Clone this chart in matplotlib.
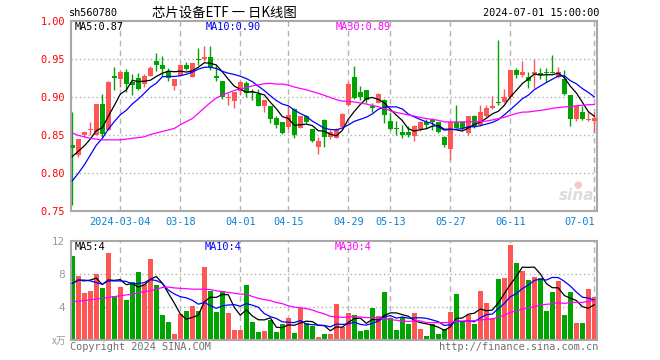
import numpy as np
import pandas as pd
import matplotlib
matplotlib.use("Agg")
import matplotlib.pyplot as plt

# ---------------- data ----------------
opens = [0.837, 0.824, 0.850, 0.857, 0.851, 0.891, 0.857, 0.928, 0.924, 0.933,
         0.920, 0.926, 0.917, 0.928, 0.948, 0.943, 0.935, 0.915, 0.928, 0.943,
         0.927, 0.951, 0.950, 0.953, 0.928, 0.921, 0.899, 0.895, 0.908, 0.919,
         0.907, 0.905, 0.888, 0.889, 0.873, 0.867, 0.861, 0.885, 0.860, 0.875,
         0.858, 0.835, 0.870, 0.848, 0.847, 0.861, 0.890, 0.927, 0.907, 0.910,
         0.889, 0.893, 0.896, 0.869, 0.859, 0.854, 0.855, 0.849, 0.858, 0.867,
         0.871, 0.867, 0.848, 0.832, 0.867, 0.867, 0.853, 0.875, 0.864, 0.875,
         0.886, 0.894, 0.894, 0.900, 0.936, 0.929, 0.927, 0.930, 0.932, 0.933,
         0.933, 0.927, 0.924, 0.903, 0.871, 0.880, 0.870, 0.869]
highs = [0.881, 0.845, 0.856, 0.868, 0.891, 0.904, 0.921, 0.940, 0.934, 0.937,
         0.930, 0.932, 0.930, 0.941, 0.958, 0.955, 0.938, 0.924, 0.943, 0.946,
         0.945, 0.965, 0.967, 0.967, 0.943, 0.922, 0.905, 0.907, 0.921, 0.922,
         0.911, 0.911, 0.896, 0.889, 0.876, 0.867, 0.889, 0.886, 0.875, 0.877,
         0.858, 0.848, 0.871, 0.857, 0.859, 0.879, 0.920, 0.941, 0.915, 0.910,
         0.892, 0.906, 0.898, 0.879, 0.869, 0.864, 0.862, 0.863, 0.869, 0.872,
         0.873, 0.868, 0.849, 0.867, 0.890, 0.869, 0.876, 0.877, 0.890, 0.890,
         0.902, 0.975, 0.911, 0.936, 0.939, 0.948, 0.933, 0.951, 0.939, 0.939,
         0.956, 0.940, 0.936, 0.903, 0.888, 0.888, 0.881, 0.881]
lows = [0.758, 0.822, 0.848, 0.851, 0.850, 0.848, 0.857, 0.910, 0.913, 0.907,
        0.903, 0.910, 0.914, 0.928, 0.935, 0.928, 0.922, 0.910, 0.928, 0.936,
        0.927, 0.943, 0.948, 0.936, 0.921, 0.898, 0.890, 0.886, 0.903, 0.901,
        0.896, 0.888, 0.881, 0.866, 0.860, 0.852, 0.858, 0.847, 0.859, 0.866,
        0.841, 0.826, 0.835, 0.845, 0.846, 0.860, 0.889, 0.898, 0.897, 0.893,
        0.881, 0.892, 0.866, 0.857, 0.850, 0.847, 0.848, 0.843, 0.856, 0.859,
        0.857, 0.853, 0.835, 0.818, 0.859, 0.857, 0.851, 0.859, 0.862, 0.874,
        0.885, 0.890, 0.893, 0.898, 0.925, 0.927, 0.912, 0.912, 0.924, 0.920,
        0.932, 0.926, 0.903, 0.862, 0.869, 0.870, 0.869, 0.854]
closes = [0.833, 0.845, 0.854, 0.858, 0.891, 0.852, 0.920, 0.925, 0.933, 0.918,
          0.916, 0.911, 0.928, 0.939, 0.943, 0.937, 0.925, 0.924, 0.943, 0.937,
          0.945, 0.949, 0.953, 0.940, 0.926, 0.900, 0.900, 0.907, 0.920, 0.906,
          0.905, 0.889, 0.896, 0.872, 0.863, 0.853, 0.877, 0.851, 0.875, 0.868,
          0.843, 0.843, 0.848, 0.855, 0.858, 0.878, 0.917, 0.899, 0.901, 0.896,
          0.886, 0.904, 0.877, 0.858, 0.858, 0.850, 0.850, 0.862, 0.867, 0.864,
          0.867, 0.855, 0.837, 0.867, 0.860, 0.859, 0.875, 0.861, 0.881, 0.886,
          0.888, 0.892, 0.900, 0.936, 0.929, 0.933, 0.922, 0.933, 0.929, 0.932,
          0.932, 0.933, 0.904, 0.872, 0.888, 0.871, 0.871, 0.873]
volumes = [10.2, 7.8, 5.7, 6.0, 8.0, 6.3, 10.6, 5.4, 6.5, 4.9,
           7.1, 8.3, 6.8, 9.8, 6.7, 3.06, 2.2, 0.8, 3.2, 3.5,
           4.2, 3.5, 8.9, 6.0, 3.4, 6.0, 3.3, 1.25, 1.25, 6.7,
           2.26, 1.0, 1.15, 2.5, 1.0, 2.0, 2.7, 0.9, 3.9, 2.08,
           1.75, 0.4, 0.78, 0.78, 4.4, 1.57, 3.3, 3.06, 1.13, 1.25,
           3.9, 2.95, 5.85, 2.66, 1.25, 2.82, 2.0, 3.3, 1.37, 0.52,
           2.0, 0.76, 1.4, 3.43, 5.65, 2.26, 3.07, 2.0, 6.0, 4.55,
           2.7, 7.43, 7.55, 11.55, 9.4, 8.4, 7.3, 7.7, 7.5, 3.5,
           5.9, 7.2, 3.07, 5.85, 2.14, 2.14, 6.2, 5.2]

# moving-average values before the window starts
ma5_head = [0.822, 0.829, 0.836, 0.845]
ma10_head = [0.790, 0.800, 0.811, 0.824, 0.837, 0.846, 0.858, 0.868, 0.877]
ma30_head = [0.853, 0.850, 0.848, 0.846, 0.845, 0.844, 0.844, 0.844, 0.844, 0.845,
             0.846, 0.847, 0.848, 0.851, 0.853, 0.855, 0.857, 0.859, 0.864, 0.868,
             0.872, 0.879, 0.886, 0.893, 0.899, 0.903, 0.906, 0.909, 0.911]
vma5_head = [6.9, 7.3, 7.2, 7.3]
vma10_head = [6.9, 7.3, 7.3, 7.2, 7.0, 6.8, 7.2, 7.2, 7.2]
vma30_head = [4.7, 4.75, 4.8, 4.9, 5.0, 5.1, 5.2, 5.3, 5.4, 5.5,
              5.6, 5.75, 5.9, 6.0, 6.2, 6.4, 6.45, 6.35, 6.3, 6.25,
              6.2, 6.2, 6.2, 6.15, 6.0, 5.9, 5.8, 5.7, 5.6]

date_labels = ["2024-03-04", "03-18", "04-01", "04-15", "04-29", "05-13", "05-27", "06-11", "07-01"]
date_keys = ["2024-03-04", "2024-03-18", "2024-04-01", "2024-04-15", "2024-04-29",
             "2024-05-13", "2024-05-27", "2024-06-11", "2024-07-01"]
holidays = ["2024-04-04", "2024-04-05", "2024-05-01", "2024-05-02", "2024-05-03", "2024-06-10"]
price_ticks = [0.75, 0.80, 0.85, 0.90, 0.95, 1.00]
vol_ticks = [4, 8, 12]

title_code = "sh560780"
title_name = "芯片设备ETF 一 日K线图"
title_time = "2024-07-01 15:00:00"
ma_labels = ["MA5:0.87", "MA10:0.90", "MA30:0.89"]
vma_labels = ["MA5:4", "MA10:4", "MA30:4"]

# ---------------- helpers ----------------
def moving_avg(values, n, head):
    s = pd.Series(values, dtype=float).rolling(n).mean().to_numpy()
    s[:n - 1] = head
    return s

dates = pd.bdate_range("2024-02-21", "2024-07-01")
dates = dates[~dates.isin(pd.to_datetime(holidays))]
date_str = [d.strftime("%Y-%m-%d") for d in dates]
tick_idx = [date_str.index(k) for k in date_keys]

o = np.array(opens); h = np.array(highs); l = np.array(lows); c = np.array(closes)
v = np.array(volumes)
x = np.arange(len(c))

RED = "#ff5555"
GREEN = "#00a400"
GRAY_BORDER = "#a8a8a8"
MONO = "DejaVu Sans Mono"

W, H = 660, 360
fig = plt.figure(figsize=(6.6, 3.6), dpi=100)
fig.patch.set_facecolor("white")

def fx(px):
    return px / W

def fy(py):
    return 1 - py / H

left, right = 70.5, 597.0
ax = fig.add_axes([fx(left), fy(211.3), fx(right) - fx(left), fy(21.3) - fy(211.3)])
axv = fig.add_axes([fx(left), fy(340.3), fx(right) - fx(left), fy(241.3) - fy(340.3)])

x0 = -0.3
x1 = x0 + (right - left) / 6.0
for a in (ax, axv):
    a.set_xlim(x0, x1)
    for s in a.spines.values():
        s.set_color(GRAY_BORDER)
        s.set_linewidth(1.5)
    a.set_xticks([])
    for ti in tick_idx:
        a.axvline(ti, color="#b4b4b4", lw=1.0, ls=(0, (4, 3)), zorder=0)

# price
ax.set_ylim(0.75, 1.00)
for gy in price_ticks[1:-1]:
    ax.axhline(gy, color="#b0b0b0", lw=1.0, ls=(0, (1, 2)), zorder=0)
ax.set_yticks(price_ticks)
ax.set_yticklabels([f"{t:.2f}" for t in price_ticks], fontfamily=MONO, fontsize=7.4, color="red")
ax.tick_params(axis="y", length=0, pad=4)

bw = 0.78
for i in x:
    up = c[i] >= o[i]
    col = RED if up else GREEN
    ax.vlines(i, l[i], h[i], color=col, lw=1.0, zorder=2)
    lo, hi = min(o[i], c[i]), max(o[i], c[i])
    hgt = max(hi - lo, 0.0013)
    ax.bar(i, hgt, bottom=lo, width=bw, color=col, edgecolor=col, lw=0, zorder=3)

ma5 = moving_avg(c, 5, ma5_head)
ma10 = moving_avg(c, 10, ma10_head)
ma30 = moving_avg(c, 30, ma30_head)
ax.plot(x, ma5, color="black", lw=0.9, zorder=4)
ax.plot(x, ma10, color="#0000ff", lw=0.9, zorder=4)
ax.plot(x, ma30, color="#ff00ff", lw=0.9, zorder=4)

# volume
axv.set_ylim(0, 12)
for gy in vol_ticks[:-1]:
    axv.axhline(gy, color="#b0b0b0", lw=1.0, ls=(0, (1, 2)), zorder=0)
axv.set_yticks(vol_ticks)
axv.set_yticklabels([str(t) for t in vol_ticks], fontsize=7.6, color="#999999")
axv.tick_params(axis="y", length=0, pad=4)
vcols = [RED if c[i] >= o[i] else GREEN for i in x]
axv.bar(x, v, width=bw, color=vcols, lw=0, zorder=2)
vma5 = moving_avg(v, 5, vma5_head)
vma10 = moving_avg(v, 10, vma10_head)
vma30 = moving_avg(v, 30, vma30_head)
axv.plot(x, vma5, color="black", lw=0.9, zorder=4)
axv.plot(x, vma10, color="#0000ff", lw=0.9, zorder=4)
axv.plot(x, vma30, color="#ff00ff", lw=0.9, zorder=4)

# x date labels
for ti, lab in zip(tick_idx, date_labels):
    xpix = left + (ti - x0) * 6.0
    ha = "right" if ti == tick_idx[-1] else "center"
    xp = xpix + 1 if ha == "right" else xpix
    fig.text(fx(xp), fy(222), lab, ha=ha, va="center", fontfamily=MONO, fontsize=7.4, color="#0a82d2")

# header texts
fig.text(fx(69), fy(12.5), title_code, ha="left", va="center", fontfamily=MONO, fontsize=7.4, color="black")
fig.text(fx(224), fy(12.5), title_name, ha="center", va="center",
         fontfamily=["Noto Sans CJK SC", "DejaVu Sans"], fontsize=9.6, color="black")
fig.text(fx(599), fy(12.5), title_time, ha="right", va="center", fontfamily=MONO, fontsize=7.4, color="black")

ma_cols = ["black", "#0000ff", "#ff00ff"]
for xp, lab, col in zip([75, 206, 336], ma_labels, ma_cols):
    fig.text(fx(xp), fy(27), lab, ha="left", va="center", fontfamily=MONO, fontsize=7.4, color=col)
for xp, lab, col in zip([75, 205, 335], vma_labels, ma_cols):
    fig.text(fx(xp), fy(247), lab, ha="left", va="center", fontfamily=MONO, fontsize=7.4, color=col)

fig.text(fx(66), fy(341), "x万", ha="right", va="center",
         fontfamily=["Noto Sans CJK SC", "DejaVu Sans"], fontsize=7, color="#999999", style="italic")
fig.text(fx(70), fy(347.5), "Copyright 2024 SINA.COM", ha="left", va="center",
         fontfamily=MONO, fontsize=7.4, color="#707070")
fig.text(fx(598), fy(347.5), "http://finance.sina.com.cn", ha="right", va="center",
         fontfamily=MONO, fontsize=7.4, color="#707070")

# watermark
fig.text(fx(594), fy(196), "sina", ha="right", va="center", fontsize=11, fontweight="bold",
         style="italic", color="#dcdcdc")
fig.text(fx(578), fy(185), "●", ha="center", va="center", fontsize=7, color="#f5c8c8")

fig.savefig("out.png", dpi=100, facecolor="white")
